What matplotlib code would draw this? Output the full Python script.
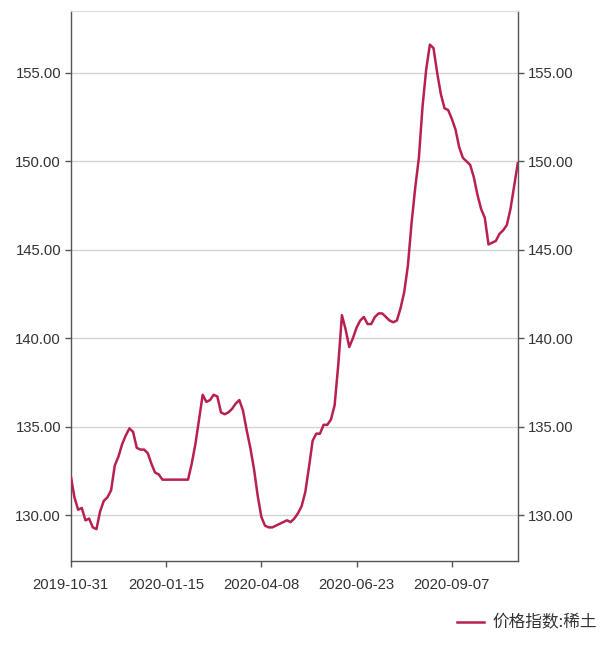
import numpy as np
import matplotlib.pyplot as plt

# rare earth price index, sampled every 2 trading days
values = [
    132.2, 131.0, 130.3, 130.4, 129.7, 129.8, 129.3, 129.2, 130.2, 130.8,
    131.0, 131.4, 132.8, 133.3, 134.0, 134.5, 134.9, 134.7, 133.8, 133.7,
    133.7, 133.5, 132.9, 132.4, 132.3, 132.0, 132.0, 132.0, 132.0, 132.0,
    132.0, 132.0, 132.0, 132.9, 134.0, 135.4, 136.8, 136.4, 136.5, 136.8,
    136.7, 135.8, 135.7, 135.8, 136.0, 136.3, 136.5, 135.9, 134.8, 133.8,
    132.6, 131.1, 129.9, 129.4, 129.3, 129.3, 129.4, 129.5, 129.6, 129.7,
    129.6, 129.8, 130.1, 130.5, 131.3, 132.7, 134.2, 134.6, 134.6, 135.1,
    135.1, 135.4, 136.2, 138.5, 141.3, 140.5, 139.5, 140.0, 140.6, 141.0,
    141.2, 140.8, 140.8, 141.2, 141.4, 141.4, 141.2, 141.0, 140.9, 141.0,
    141.7, 142.6, 144.1, 146.5, 148.5, 150.2, 153.1, 155.2, 156.6, 156.4,
    155.0, 153.8, 153.0, 152.9, 152.4, 151.8, 150.8, 150.2, 150.0, 149.8,
    149.1, 148.1, 147.3, 146.8, 145.3, 145.4, 145.5, 145.9, 146.1, 146.4,
    147.3, 148.6, 149.9,
]
tick_labels = ["2019-10-31", "2020-01-15", "2020-04-08", "2020-06-23", "2020-09-07"]
yticks = [130, 135, 140, 145, 150, 155]
series_name = "价格指数:稀土"

step = 2          # trading days per sample
tick_every = 52   # trading days between date labels

x = np.arange(len(values)) * step

fig = plt.figure(figsize=(6, 6.49), dpi=100)
ax = fig.add_axes([0.118, 0.1356, 0.745, 0.8474])

line_color = "#b8214f"
ax.plot(x, values, color=line_color, lw=1.8, label=series_name, zorder=3)

ax.set_xlim(0, x[-1])
ax.set_ylim(127.4, 158.5)
ax.set_yticks(yticks)
ax.set_yticklabels(["%.2f" % v for v in yticks])
ax.set_xticks(np.arange(len(tick_labels)) * tick_every)
ax.set_xticklabels(tick_labels)

ax.grid(axis="y", color="#d4d4d4", lw=1.0)
ax.set_axisbelow(True)

for side in ["left", "bottom", "right"]:
    ax.spines[side].set_color("#555555")
    ax.spines[side].set_linewidth(1.0)
ax.spines["top"].set_color("#dcdcdc")

ax.tick_params(axis="both", direction="out", length=4, width=1.0,
               color="#555555", labelcolor="#333333", labelsize=10.7, pad=3)
ax.tick_params(axis="y", right=True, labelright=True)
for lbl in ax.get_xticklabels() + ax.get_yticklabels(which="both"):
    lbl.set_family("Liberation Sans")
for lbl in ax.yaxis.get_ticklabels(which="both"):
    lbl.set_family("Liberation Sans")
ax.tick_params(axis="x", pad=8)

leg = ax.legend(loc="center right", bbox_to_anchor=(1.0, 0.04),
                bbox_transform=fig.transFigure, frameon=False,
                borderaxespad=0.1, borderpad=0.1,
                handlelength=1.6, handletextpad=0.5,
                prop={"family": ["Noto Sans CJK SC", "DejaVu Sans"], "size": 12})
for t in leg.get_texts():
    t.set_color("#333333")

fig.savefig("out.png", dpi=100)
